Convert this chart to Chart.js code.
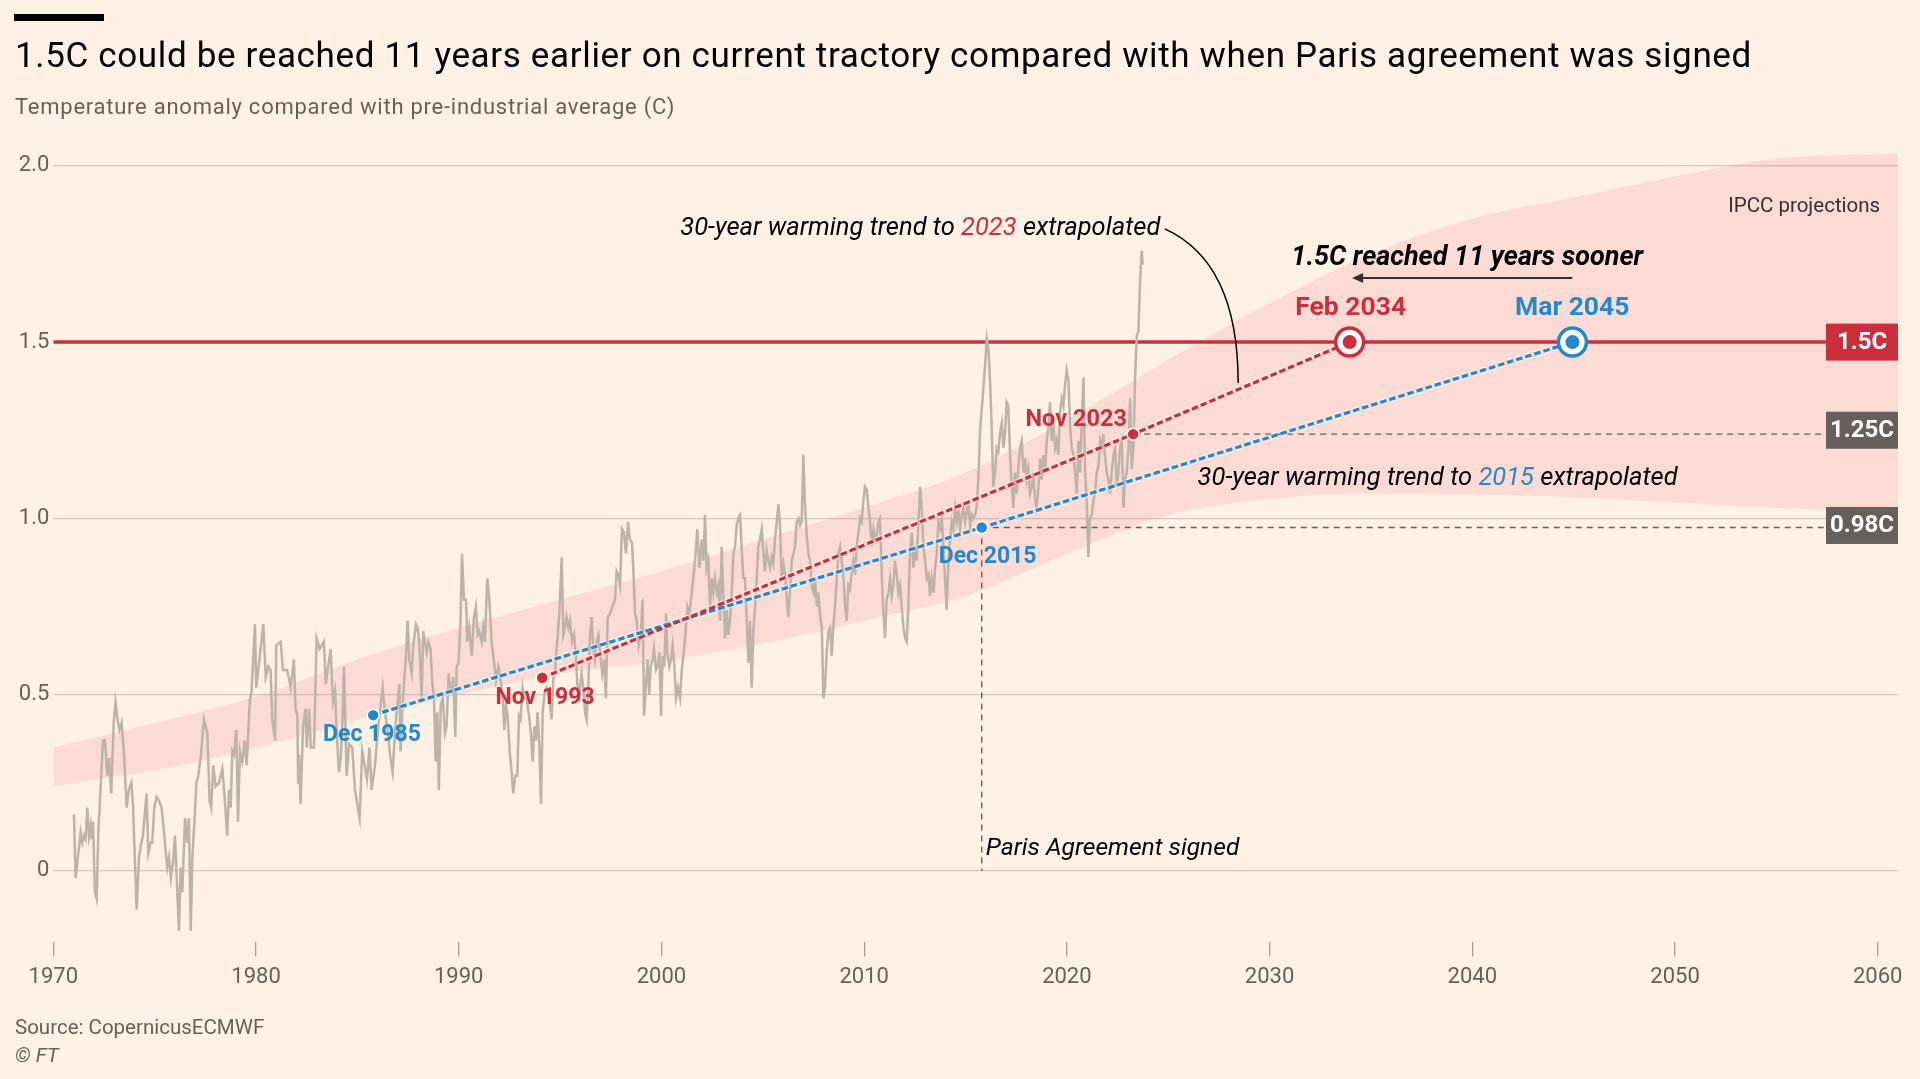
<!DOCTYPE html>
<html lang="en">
<head>
<meta charset="utf-8">
<title>1.5C could be reached 11 years earlier</title>
<script src="https://cdn.jsdelivr.net/npm/chart.js@4.4.0/dist/chart.umd.min.js"></script>
<style>
  html,body{margin:0;padding:0;}
  body{width:1920px;height:1079px;background:#fff1e5;overflow:hidden;position:relative;
       font-family:Roboto,"Liberation Sans",sans-serif;color:#33302e;}
  #wrap{position:absolute;left:0;top:0;width:1920px;height:1079px;}
  .bar{position:absolute;left:14px;top:14px;width:90px;height:7px;background:#000;}
  h1{position:absolute;left:15px;top:38px;margin:0;font-size:35px;letter-spacing:0.65px;line-height:1;font-weight:400;color:#000;white-space:nowrap;}
  .sub{position:absolute;left:15px;top:96px;font-size:22px;letter-spacing:0.75px;line-height:1;color:#66605c;white-space:nowrap;}
  .source{position:absolute;left:15px;top:1017px;font-size:20.5px;line-height:1;color:#66605c;}
  .ft{position:absolute;left:15px;top:1045px;font-size:20.5px;line-height:1;color:#66605c;font-style:italic;}
</style>
</head>
<body>

<div id="wrap"><canvas id="chart"></canvas></div>
<div class="bar"></div>
<h1>1.5C could be reached 11 years earlier on current tractory compared with when Paris agreement was signed</h1>
<div class="sub">Temperature anomaly compared with pre-industrial average (C)</div>
<div class="source">Source: CopernicusECMWF</div>
<div class="ft">© FT</div>

<script>
/* ---------- data ---------- */
const xTicks = [1970, 1980, 1990, 2000, 2010, 2020, 2030, 2040, 2050, 2060];
const yTicks = [0, 0.5, 1.0, 1.5, 2.0];

// monthly temperature anomaly (C)
const tempYears = [
  1971.02,1971.10,1971.35,1971.43,1971.51,1971.59,1971.68,1971.76,1971.84,1971.89,
  1971.96,1972.05,1972.14,1972.22,1972.33,1972.45,1972.55,1972.66,1972.75,1972.86,
  1972.98,1973.07,1973.19,1973.27,1973.37,1973.50,1973.62,1973.73,1973.85,1973.93,
  1974.11,1974.23,1974.31,1974.42,1974.60,1974.69,1974.80,1974.88,1974.98,1975.10,
  1975.21,1975.34,1975.46,1975.62,1975.71,1975.80,1975.90,1976.00,1976.20,1976.28,
  1976.36,1976.50,1976.61,1976.69,1976.78,1976.86,1976.97,1977.06,1977.15,1977.27,
  1977.43,1977.60,1977.71,1977.79,1977.89,1978.01,1978.17,1978.34,1978.45,1978.58,
  1978.67,1978.75,1978.83,1978.91,1979.03,1979.11,1979.21,1979.32,1979.44,1979.54,
  1979.69,1979.78,1979.95,1980.01,1980.11,1980.36,1980.48,1980.61,1980.72,1980.80,
  1980.94,1981.00,1981.22,1981.33,1981.54,1981.71,1981.87,1981.95,1982.04,1982.08,
  1982.12,1982.20,1982.32,1982.45,1982.50,1982.62,1982.70,1982.86,1982.99,1983.14,
  1983.35,1983.44,1983.68,1983.80,1983.90,1983.96,1984.09,1984.18,1984.26,1984.34,
  1984.47,1984.59,1984.75,1984.88,1985.11,1985.24,1985.47,1985.60,1985.70,1985.87,
  1986.03,1986.25,
  1986.36,1986.52,1986.61,1986.74,1986.85,1986.94,1987.07,1987.13,1987.26,1987.40,
  1987.48,1987.56,1987.68,1987.76,1987.89,1987.97,1988.05,1988.17,1988.25,1988.33,
  1988.42,1988.50,1988.61,1988.70,1988.78,1988.86,1988.94,1989.02,1989.11,1989.21,
  1989.32,1989.40,1989.50,1989.57,1989.67,1989.73,1989.83,1989.90,1989.99,1990.09,
  1990.16,1990.26,1990.36,1990.42,1990.52,1990.64,1990.75,1990.85,1990.93,1991.01,
  1991.13,1991.21,1991.29,1991.41,1991.51,1991.62,1991.71,1991.84,1991.95,1992.03,
  1992.17,1992.25,1992.33,1992.41,1992.53,1992.61,1992.69,1992.79,1992.89,1992.97,
  1993.05,1993.15,1993.24,1993.35,1993.47,1993.56,1993.65,1993.73,1993.81,1993.89,
  1993.98,1994.06,1994.14,1994.25,1994.34,1994.47,1994.58,1994.67,1994.76,1994.86,
  1994.96,1995.08,1995.16,1995.24,1995.32,1995.41,1995.49,1995.59,1995.69,1995.78,
  1995.85,1995.95,1996.06,1996.15,1996.23,1996.31,1996.39,1996.48,1996.56,1996.64,
  1996.72,1996.80,1996.89,1996.97,1997.08,1997.18,1997.26,1997.35,1997.46,1997.59,
  1997.71,1997.79,1997.87,1997.96,1998.05,1998.15,1998.25,1998.35,1998.45,1998.55,
  1998.61,1998.70,1998.78,1998.88,1998.98,1999.07,1999.14,1999.22,1999.32,1999.40,
  1999.47,1999.57,1999.63,1999.73,1999.81,1999.90,1999.98,2000.06,2000.14,2000.23,
  2000.29,2000.39,2000.47,2000.55,2000.64,2000.72,2000.82,2000.92,2001.00,2001.08,
  2001.18,2001.28,2001.38,2001.46,2001.57,2001.67,2001.77,2001.87,2001.99,2002.07,
  2002.15,2002.23,
  2002.31,2002.40,2002.48,2002.56,2002.64,2002.73,2002.81,2002.89,2002.97,2003.05,
  2003.14,2003.22,2003.30,2003.38,2003.47,2003.55,2003.63,2003.71,2003.79,2003.88,
  2003.96,2004.04,2004.12,2004.21,2004.29,2004.37,2004.45,2004.54,2004.62,2004.70,
  2004.78,2004.86,2004.95,2005.03,2005.11,2005.19,2005.28,2005.36,2005.44,2005.52,
  2005.60,2005.69,2005.77,2005.85,2005.93,2006.02,2006.10,2006.18,2006.26,2006.34,
  2006.43,2006.51,2006.59,2006.67,2006.76,2006.84,2006.92,2007.00,2007.08,2007.17,
  2007.25,2007.33,2007.41,2007.50,2007.58,2007.66,2007.74,2007.82,2007.91,2007.99,
  2008.07,2008.15,2008.24,2008.32,2008.40,2008.48,2008.56,2008.65,2008.73,2008.81,
  2008.89,2008.98,2009.06,2009.14,2009.22,2009.30,2009.39,2009.47,2009.55,2009.63,
  2009.72,2009.80,2009.88,2009.96,2010.04,2010.13,2010.21,2010.29,2010.37,2010.46,
  2010.54,2010.62,2010.70,2010.78,2010.87,2010.95,2011.03,2011.11,2011.20,2011.28,
  2011.36,2011.44,2011.52,2011.61,2011.69,2011.77,2011.85,2011.94,2012.02,2012.10,
  2012.18,2012.26,2012.35,2012.43,2012.51,2012.59,2012.68,2012.76,2012.84,2012.92,
  2013.01,2013.09,2013.17,2013.25,2013.33,2013.42,2013.50,2013.58,2013.66,2013.75,
  2013.83,2013.91,2013.99,2014.07,2014.16,2014.24,2014.32,2014.40,2014.49,2014.57,
  2014.65,2014.73,2014.81,2014.90,2014.98,2015.06,2015.14,2015.23,2015.31,2015.39,
  2015.47,2015.55,2015.64,2015.72,
  2015.80,2015.88,2015.96,2016.05,2016.13,2016.21,2016.29,2016.37,2016.46,2016.54,
  2016.62,2016.70,2016.79,2016.87,2016.95,2017.03,2017.11,2017.20,2017.28,2017.36,
  2017.44,2017.53,2017.61,2017.69,2017.77,2017.86,2017.94,2018.02,2018.10,2018.18,
  2018.27,2018.35,2018.43,2018.51,2018.60,2018.68,2018.76,2018.84,2018.92,2019.01,
  2019.09,2019.17,2019.25,2019.34,2019.42,2019.50,2019.58,2019.66,2019.75,2019.83,
  2019.91,2019.99,2020.08,2020.16,2020.24,2020.32,2020.40,2020.49,2020.57,2020.65,
  2020.73,2020.82,2020.90,2020.98,2021.06,2021.14,2021.23,2021.31,2021.39,2021.47,
  2021.56,2021.64,2021.72,2021.80,2021.88,2021.97,2022.05,2022.13,2022.21,2022.30,
  2022.38,2022.46,2022.54,2022.62,2022.71,2022.79,2022.87,2022.95,2023.04,2023.12,
  2023.20,2023.28,2023.36,2023.45,2023.53,2023.61,2023.69,2023.74
];
const tempValues = [
  0.16,-0.02,0.11,0.08,0.10,0.09,0.18,0.10,0.13,0.09,
  0.14,-0.06,-0.08,0.11,0.23,0.37,0.37,0.27,0.32,0.22,
  0.42,0.48,0.42,0.40,0.42,0.32,0.18,0.23,0.25,0.19,
  -0.11,0.04,0.07,0.10,0.22,0.05,0.08,0.08,0.18,0.21,
  0.20,0.18,0.11,0.01,0.04,-0.02,0.02,0.10,-0.17,0.01,
  -0.06,0.15,0.08,0.15,-0.17,0.04,0.15,0.25,0.27,0.32,
  0.43,0.39,0.20,0.18,0.30,0.24,0.25,0.29,0.21,0.10,
  0.23,0.18,0.34,0.33,0.40,0.14,0.34,0.31,0.37,0.30,
  0.48,0.51,0.70,0.52,0.57,0.70,0.55,0.58,0.57,0.43,
  0.37,0.64,0.65,0.57,0.57,0.52,0.60,0.46,0.44,0.25,
  0.33,0.19,0.41,0.46,0.35,0.46,0.35,0.35,0.66,0.63,
  0.65,0.53,0.63,0.48,0.51,0.42,0.28,0.32,0.42,0.58,
  0.27,0.36,0.35,0.23,0.15,0.34,0.26,0.35,0.23,0.30,
  0.41,0.52,
  0.45,0.39,0.33,0.28,0.39,0.45,0.53,0.34,0.50,0.61,
  0.71,0.60,0.56,0.64,0.70,0.69,0.65,0.49,0.68,0.65,
  0.62,0.65,0.63,0.53,0.49,0.31,0.45,0.23,0.47,0.49,
  0.39,0.41,0.56,0.52,0.51,0.55,0.38,0.58,0.59,0.71,
  0.90,0.77,0.77,0.65,0.69,0.61,0.72,0.75,0.67,0.68,
  0.65,0.69,0.65,0.83,0.77,0.65,0.61,0.54,0.58,0.56,
  0.49,0.40,0.47,0.44,0.33,0.28,0.22,0.27,0.27,0.44,
  0.43,0.52,0.49,0.49,0.44,0.39,0.31,0.41,0.37,0.45,
  0.35,0.19,0.45,0.51,0.52,0.49,0.43,0.55,0.57,0.65,
  0.73,0.89,0.67,0.69,0.72,0.69,0.71,0.65,0.67,0.61,
  0.53,0.50,0.56,0.52,0.45,0.43,0.52,0.67,0.72,0.63,
  0.60,0.65,0.67,0.62,0.56,0.60,0.49,0.72,0.73,0.75,
  0.77,0.85,0.84,0.81,0.97,0.96,0.90,0.99,0.94,0.93,
  0.86,0.73,0.71,0.64,0.67,0.77,0.44,0.51,0.60,0.50,
  0.58,0.60,0.63,0.57,0.58,0.62,0.44,0.61,0.58,0.73,
  0.62,0.58,0.60,0.64,0.58,0.49,0.52,0.49,0.57,0.61,
  0.67,0.75,0.73,0.77,0.83,0.89,0.97,0.86,0.94,0.88,
  1.01,0.86,
  0.88,0.75,0.83,0.79,0.83,0.79,0.81,0.71,0.92,0.79,
  0.66,0.74,0.67,0.71,0.79,0.90,0.92,0.98,1.00,1.01,
  0.91,0.83,0.83,0.71,0.59,0.71,0.52,0.69,0.75,0.83,
  0.92,0.94,0.97,0.90,0.85,0.91,0.88,0.86,0.89,0.87,
  0.94,0.99,1.04,0.98,0.83,0.87,0.84,0.77,0.72,0.79,
  0.88,0.90,0.92,0.99,1.00,0.98,0.99,1.18,1.04,0.95,
  0.90,0.88,0.81,0.79,0.83,0.75,0.79,0.73,0.69,0.49,
  0.52,0.62,0.68,0.69,0.61,0.69,0.75,0.83,0.90,0.92,
  0.88,0.83,0.75,0.71,0.81,0.80,0.85,0.88,0.84,0.92,
  0.96,1.00,0.99,1.05,1.09,1.08,1.03,0.99,0.92,0.97,
  0.94,0.95,0.99,1.00,0.84,0.73,0.66,0.77,0.79,0.83,
  0.78,0.81,0.88,0.84,0.79,0.81,0.75,0.69,0.66,0.65,
  0.75,0.90,0.96,0.86,0.92,0.88,0.99,1.09,1.03,0.92,
  0.88,0.83,0.84,0.78,0.83,0.79,0.86,0.90,0.99,0.97,
  1.00,0.92,0.83,0.74,0.88,0.94,0.99,0.97,1.03,0.99,
  1.02,0.97,1.01,1.03,0.99,1.02,1.04,0.98,1.01,1.00,
  1.01,1.03,1.12,1.25,
  1.31,1.37,1.43,1.51,1.48,1.39,1.26,1.09,1.13,1.20,
  1.19,1.24,1.27,1.20,1.24,1.33,1.32,1.18,1.09,1.03,
  1.13,1.07,1.15,1.20,1.22,1.13,1.17,1.11,1.14,1.07,
  1.09,1.13,1.05,1.03,1.09,1.17,1.11,1.18,1.13,1.22,
  1.26,1.33,1.22,1.26,1.20,1.22,1.18,1.30,1.34,1.32,
  1.38,1.42,1.39,1.26,1.20,1.18,1.13,1.07,1.22,1.13,
  1.26,1.40,1.13,1.05,0.89,1.00,1.01,1.05,1.07,1.13,
  1.15,1.22,1.20,1.24,1.18,1.13,1.11,1.07,1.13,1.18,
  1.20,1.09,1.13,1.20,1.22,1.03,1.11,1.13,1.20,1.34,
  1.14,1.20,1.39,1.52,1.53,1.67,1.76,1.72
];

// IPCC projection range
const bandYears = [1970,1975,1980,1985,1990,1995,2000,2005,2010,2015,2020,2025,2030,2035,2040,2045,2050,2055,2061];
const bandUpper = [0.35,0.42,0.495,0.60,0.69,0.77,0.85,0.94,1.03,1.13,1.28,1.45,1.61,1.75,1.85,1.91,1.97,2.02,2.035];
const bandLower = [0.24,0.285,0.35,0.43,0.50,0.56,0.595,0.645,0.71,0.78,0.90,1.01,1.055,1.07,1.068,1.06,1.045,1.03,1.015];

// 30-year trends: start point, latest point, crossing of 1.5C
const redTrendYears = [1994.12, 2023.27, 2033.95];
const redTrendValues = [0.548, 1.239, 1.5];
const blueTrendYears = [1985.78, 2015.80, 2044.94];
const blueTrendValues = [0.442, 0.974, 1.5];

const thresholdValue = 1.5;
const boxLabels = ['1.5C', '1.25C', '0.98C'];
const boxValues = [1.5, 1.25, 0.98];

/* ---------- colours ---------- */
const RED = '#cc2e3c', BLUE = '#2389cc', GREY = '#66605c', INK = '#000000';
const FONT = 'Roboto, "Liberation Sans", sans-serif';

const pts = (xs, ys) => xs.map((x, i) => ({x: x, y: ys[i]}));
const lastX = 2057.5;   // where the reference lines run into the value boxes

const annotate = {
  id: 'annotate',
  afterDatasetsDraw(chart) {
    const {ctx, chartArea, scales: {x, y}} = chart;
    const X = v => x.getPixelForValue(v), Y = v => y.getPixelForValue(v);
    ctx.save();
    ctx.textBaseline = 'middle';

    // value boxes on the right
    boxLabels.forEach((t, i) => {
      const cy = Y(boxValues[i]);
      ctx.fillStyle = i === 0 ? RED : GREY;
      ctx.fillRect(chartArea.right - 72, cy - 18.5, 72, 37);
      ctx.fillStyle = '#fff';
      ctx.font = 'bold 24px ' + FONT;
      ctx.textAlign = 'center';
      ctx.fillText(t, chartArea.right - 36, cy + 1);
    });

    const text = (t, vx, vy, font, color, align) => {
      ctx.font = font; ctx.fillStyle = color; ctx.textAlign = align || 'center';
      ctx.fillText(t, X(vx), Y(vy));
    };
    const parts = (list, vx, vy, font) => {
      ctx.font = font; ctx.textAlign = 'left';
      let cx = X(vx);
      list.forEach(([t, c]) => { ctx.fillStyle = c; ctx.fillText(t, cx, Y(vy)); cx += ctx.measureText(t).width; });
    };

    const small = 'bold 23px ' + FONT, big = 'bold 26.5px ' + FONT, ital = 'italic 25.5px ' + FONT;
    text('Dec 1985', 1985.72, 0.386, small, BLUE);
    text('Nov 1993', 1994.26, 0.491, small, RED);
    text('Dec 2015', 2016.09, 0.891, small, BLUE);
    text('Nov 2023', 2020.46, 1.279, 'bold 23.5px ' + FONT, RED);
    text('Feb 2034', 2034.0, 1.597, big, RED);
    text('Mar 2045', 2044.93, 1.597, big, BLUE);
    text('IPCC projections', 2060.12, 1.884, '20.5px ' + FONT, '#33302e', 'right');
    text('Paris Agreement signed', 2016.0, 0.0635, 'italic 24.6px ' + FONT, INK, 'left');
    text('1.5C reached 11 years sooner', 2039.75, 1.738, 'italic bold 27px ' + FONT, INK);
    parts([['30-year warming trend to ', INK], ['2023', RED], [' extrapolated', INK]], 2000.93, 1.821, ital);
    parts([['30-year warming trend to ', INK], ['2015', BLUE], [' extrapolated', INK]], 2026.45, 1.112, ital);

    // arrow: 11 years sooner
    ctx.strokeStyle = '#33302e'; ctx.fillStyle = '#33302e'; ctx.lineWidth = 2;
    const ay = Y(1.682), ax0 = X(2044.93), ax1 = X(2034.07);
    ctx.beginPath(); ctx.moveTo(ax0, ay); ctx.lineTo(ax1 + 8, ay); ctx.stroke();
    ctx.beginPath(); ctx.moveTo(ax1, ay); ctx.lineTo(ax1 + 11, ay - 5); ctx.lineTo(ax1 + 11, ay + 5); ctx.closePath(); ctx.fill();

    // connector from the 2023 note to the red trend
    ctx.strokeStyle = '#000'; ctx.lineWidth = 1.5;
    ctx.beginPath();
    ctx.moveTo(X(2024.83), Y(1.821));
    ctx.quadraticCurveTo(X(2028.45), Y(1.727), X(2028.45), Y(1.384));
    ctx.stroke();
    ctx.restore();
  }
};

new Chart(document.getElementById('chart'), {
  type: 'line',
  data: {
    datasets: [
      { // trend start / latest dots
        data: pts([redTrendYears[0], redTrendYears[1], blueTrendYears[0], blueTrendYears[1]],
                  [redTrendValues[0], redTrendValues[1], blueTrendValues[0], blueTrendValues[1]]),
        showLine: false, pointRadius: 6, pointBorderWidth: 1.5, pointBorderColor: '#fff',
        pointBackgroundColor: [RED, RED, BLUE, BLUE], order: 0
      },
      { // 1.5C crossing targets, inner dot
        data: pts([redTrendYears[2], blueTrendYears[2]], [redTrendValues[2], blueTrendValues[2]]),
        showLine: false, pointRadius: 7, pointBorderWidth: 0, pointBackgroundColor: [RED, BLUE], order: 0
      },
      { // 1.5C crossing targets, ring
        data: pts([redTrendYears[2], blueTrendYears[2]], [redTrendValues[2], blueTrendValues[2]]),
        showLine: false, pointRadius: 14, pointBorderWidth: 3.5, pointBackgroundColor: '#fff',
        pointBorderColor: [RED, BLUE], order: 1
      },
      { data: pts(redTrendYears, redTrendValues), borderColor: RED, borderWidth: 3.3,
        borderDash: [6.5, 3], pointRadius: 0, order: 2 },
      { data: pts(blueTrendYears, blueTrendValues), borderColor: BLUE, borderWidth: 3.3,
        borderDash: [6.5, 3], pointRadius: 0, order: 2 },
      { data: pts(redTrendYears, redTrendValues), borderColor: 'rgba(255,255,255,0.6)', borderWidth: 6,
        pointRadius: 0, borderDash: [6.5, 3], order: 3 },
      { data: pts(blueTrendYears, blueTrendValues), borderColor: 'rgba(255,255,255,0.6)', borderWidth: 6,
        pointRadius: 0, borderDash: [6.5, 3], order: 3 },
      { // reference lines from the latest points
        data: pts([redTrendYears[1], lastX], [redTrendValues[1], redTrendValues[1]]),
        borderColor: GREY, borderWidth: 1.4, borderDash: [6, 5], pointRadius: 0, order: 4 },
      { data: pts([blueTrendYears[1], lastX], [blueTrendValues[1], blueTrendValues[1]]),
        borderColor: GREY, borderWidth: 1.4, borderDash: [6, 5], pointRadius: 0, order: 4 },
      { data: pts([blueTrendYears[1], blueTrendYears[1]], [blueTrendValues[1], 0]),
        borderColor: GREY, borderWidth: 1.4, borderDash: [6, 5], pointRadius: 0, order: 4 },
      { // observed temperature
        data: pts(tempYears, tempValues), borderColor: '#bdb3aa', borderWidth: 2.5,
        pointRadius: 0, tension: 0, order: 5 },
      { // 1.5C threshold
        data: pts([1970, lastX], [thresholdValue, thresholdValue]), borderColor: RED, borderWidth: 3.5,
        pointRadius: 0, order: 6 },
      { // IPCC band
        data: pts(bandYears, bandUpper), borderWidth: 0, pointRadius: 0, fill: '+1',
        backgroundColor: 'rgba(240,130,140,0.19)', cubicInterpolationMode: 'monotone', order: 7 },
      { data: pts(bandYears, bandLower), borderWidth: 0, pointRadius: 0, fill: false,
        cubicInterpolationMode: 'monotone', order: 7 }
    ]
  },
  options: {
    responsive: true,
    maintainAspectRatio: false,
    animation: false,
    layout: { padding: { top: 148.2, right: 22, left: 0, bottom: 0 } },
    plugins: { legend: { display: false }, tooltip: { enabled: false } },
    scales: {
      x: {
        type: 'linear', min: 1970, max: 2061,
        afterBuildTicks: s => { s.ticks = xTicks.map(v => ({ value: v })); },
        afterFit: s => { s.height = 137.5; },
        border: { display: false },
        grid: { drawOnChartArea: false, drawTicks: true, tickLength: 15, color: '#a89e96', lineWidth: 1.3 },
        ticks: { color: GREY, font: { family: FONT, size: 22 }, padding: 8, maxRotation: 0,
                 callback: v => String(v) }
      },
      y: {
        min: -0.2, max: 2.05,
        afterBuildTicks: s => { s.ticks = yTicks.map(v => ({ value: v })); },
        afterFit: s => { s.width = 53.3; },
        border: { display: false },
        grid: { color: '#d3c8be', lineWidth: 1.3, drawTicks: false },
        ticks: { color: GREY, font: { family: FONT, size: 22 }, padding: 4,
                 callback: v => v === 0 ? '0' : v.toFixed(1) }
      }
    }
  },
  plugins: [annotate]
});
</script>
</body>
</html>
